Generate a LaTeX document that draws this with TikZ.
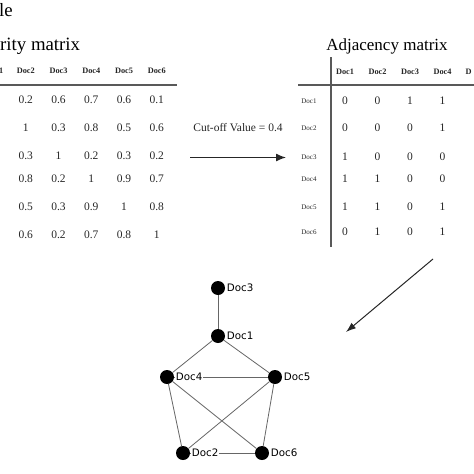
\documentclass[tikz,border=0pt]{standalone}
\usepackage{fontspec}
\setmainfont{Liberation Serif}
\newfontfamily\graphfont{DejaVu Sans}
\usetikzlibrary{arrows.meta,backgrounds}
\tikzset{
  bigtitle/.style={font=\fontsize{17}{18}\selectfont, inner sep=0pt},
  val/.style={font=\fontsize{11.5}{12}\selectfont, text=black!85},
  colhead/.style={font=\bfseries\fontsize{8.3}{9}\selectfont, text=black!85},
  rowhead/.style={font=\fontsize{7}{8}\selectfont, text=black!85},
  rule/.style={draw=black!65, line width=1.2pt},
  doc/.style={circle, fill=black, inner sep=0pt, minimum size=14pt},
  doclabel/.style={font=\graphfont\fontsize{10.3}{11}\selectfont, inner sep=0.5pt, fill=white},
  link/.style={draw=black!60, line width=0.8pt}
}
\begin{document}
\begin{tikzpicture}[x=1pt,y=-1pt]
  \useasboundingbox (0,0) rectangle (474,474);
  \clip (0,0) rectangle (474,474);

  % left matrix (cropped)
  \node[bigtitle, font=\fontsize{18.8}{20}\selectfont, anchor=base west] (simtitle) at (-1,16) {le};
  \node[bigtitle, font=\fontsize{18.8}{20}\selectfont, anchor=base west] (simname) at (0,50) {rity matrix};
  \node[colhead, anchor=east, inner sep=0pt] (simh1) at (3.5,71) {1};
  \foreach \name [count=\i from 2] in {Doc2,Doc3,Doc4,Doc5,Doc6}
    \node[colhead] (simh\i) at (-7+32.75*\i-32.75,71) {\name};
  \draw[rule] (0,85) -- (177,85);
  \foreach \y/\vals [count=\r] in {100/{0.2,0.6,0.7,0.6,0.1},
                                   128/{1,0.3,0.8,0.5,0.6},
                                   156/{0.3,1,0.2,0.3,0.2},
                                   179/{0.8,0.2,1,0.9,0.7},
                                   207/{0.5,0.3,0.9,1,0.8},
                                   235/{0.6,0.2,0.7,0.8,1}}
    \foreach \v [count=\i] in \vals
      \node[val] (sim\r\i) at (-7+32.75*\i,\y) {\v};

  % cut-off step
  \node[val] (cutoff) at (238,128) {Cut-off Value = 0.4};
  \coordinate (cutstart) at (190,157.5);
  \coordinate (cutend) at (286,157.5);
  \draw[line width=1.3pt, black!85, -{Latex[length=10pt,width=8pt]}] (cutstart) -- (cutend);

  % adjacency matrix
  \node[bigtitle, anchor=base] (adjtitle) at (387,50.5) {Adjacency matrix};
  \foreach \name [count=\i] in {Doc1,Doc2,Doc3,Doc4}
    \node[colhead] (adjh\i) at (312.5+32.5*\i,72) {\name};
  \node[colhead, anchor=west, inner sep=0pt] (adjh5) at (465.5,72) {D};
  \draw[rule] (298,85) -- (474,85);
  \draw[rule] (331,57) -- (331,247);
  \foreach \y/\name/\vals [count=\r] in {101/Doc1/{0,0,1,1},
                                         128/Doc2/{0,0,0,1},
                                         157/Doc3/{1,0,0,0},
                                         179/Doc4/{1,1,0,0},
                                         207/Doc5/{1,1,0,1},
                                         232/Doc6/{0,1,0,1}}
  {
    \node[rowhead] (adjr\r) at (309,\y) {\name};
    \foreach \v [count=\i] in \vals
      \node[val] (adj\r\i) at (312.5+32.5*\i,\y) {\v};
  }

  % to the graph
  \coordinate (graphstart) at (433,259);
  \coordinate (graphend) at (346,332);
  \draw[line width=1pt, black!85, -{Latex[length=10pt,width=7pt]}] (graphstart) -- (graphend);

  % document graph
  \node[doc, label={[doclabel, label distance=1pt]right:Doc3}] (d3) at (218,288) {};
  \node[doc, label={[doclabel, label distance=1pt]right:Doc1}] (d1) at (218,336) {};
  \node[doc, label={[doclabel, label distance=1pt]right:Doc4}] (d4) at (167,377) {};
  \node[doc, label={[doclabel, label distance=1pt]right:Doc5}] (d5) at (275,377) {};
  \node[doc, label={[doclabel, label distance=1pt]right:Doc2}] (d2) at (183,453) {};
  \node[doc, label={[doclabel, label distance=1pt]right:Doc6}] (d6) at (262,453) {};
  \begin{scope}[on background layer]
  \foreach \a/\b in {d3/d1,d1/d4,d1/d5,d4/d5,d4/d2,d4/d6,d5/d2,d5/d6,d2/d6}
    \draw[link] (\a) -- (\b);
  \end{scope}
\end{tikzpicture}
\end{document}
